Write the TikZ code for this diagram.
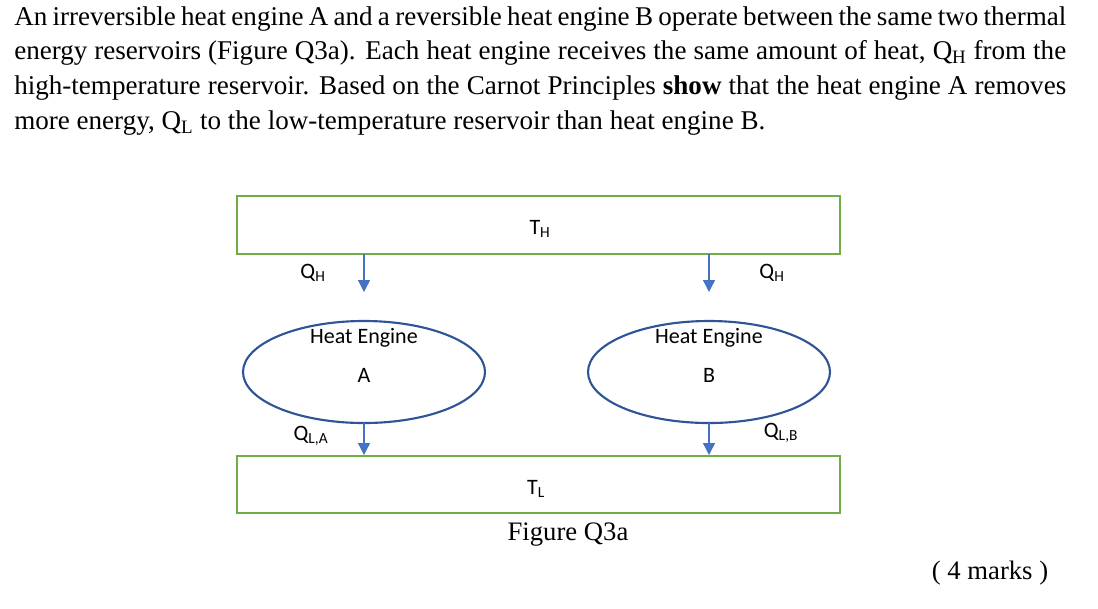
\documentclass[tikz,border=0pt]{standalone}
\usepackage{fontspec}
\setmainfont{Liberation Serif}
\newfontfamily\carfont{Carlito}
\usetikzlibrary{arrows.meta}
\definecolor{gr}{HTML}{70AD47}
\definecolor{eb}{HTML}{2F5597}
\definecolor{ab}{HTML}{4472C4}
\begin{document}
\begin{tikzpicture}[x=0.75pt,y=-0.75pt,
  res/.style={draw=gr,line width=1.3pt},
  eng/.style={draw=eb,line width=1.6pt},
  arr/.style={draw=ab,line width=1pt,-{Triangle[width=9pt,length=9pt]}},
  lab/.style={font=\carfont\fontsize{16.5}{18}\selectfont,inner sep=0pt}]
\useasboundingbox (0,0) rectangle (1098,608);
\node[anchor=north west,inner sep=0pt] (para) at (14,6)
{\parbox{789pt}{\fontsize{20.3}{26}\selectfont An irreversible heat engine A and a reversible heat engine B operate between the same two thermal energy reservoirs (Figure Q3a). Each heat engine receives the same amount of heat, Q\textsubscript{H} from the high-temperature reservoir. Based on the Carnot Principles \textbf{show} that the heat engine A removes more energy, Q\textsubscript{L} to the low-temperature reservoir than heat engine B.}};
\draw[res] (237,196) rectangle (840,254);
\draw[res] (237,456) rectangle (840,513);
\draw[eng] (364,372) ellipse (121 and 51);
\draw[eng] (709,372) ellipse (121 and 51);
\coordinate (a1) at (364,254); \coordinate (a2) at (364,292);
\coordinate (b1) at (709,254); \coordinate (b2) at (709,292);
\coordinate (a3) at (364,423); \coordinate (a4) at (364,455);
\coordinate (b3) at (709,423); \coordinate (b4) at (709,455);
\draw[arr] (a1) -- (a2); \draw[arr] (b1) -- (b2);
\draw[arr] (a3) -- (a4); \draw[arr] (b3) -- (b4);
\node[lab] (th) at (540,229) {T\textsubscript{H}};
\node[lab] (qh1) at (313,273) {Q\textsubscript{H}};
\node[lab] (qh2) at (772,273) {Q\textsubscript{H}};
\node[lab] (ha) at (364,338) {Heat Engine};
\node[lab] (aa) at (364,375) {A};
\node[lab] (hb) at (709,338) {Heat Engine};
\node[lab] (bb) at (709,375) {B};
\node[lab] (qla) at (311,436) {Q\textsubscript{L,A}};
\node[lab] (qlb) at (781,433) {Q\textsubscript{L,B}};
\node[lab] (tl) at (536,489) {T\textsubscript{L}};
\node[inner sep=0pt,font=\fontsize{20}{22}\selectfont] (fig) at (568,535) {Figure Q3a};
\node[inner sep=0pt,font=\fontsize{20}{22}\selectfont] (mk) at (990,573) {( 4 marks )};
\end{tikzpicture}
\end{document}
